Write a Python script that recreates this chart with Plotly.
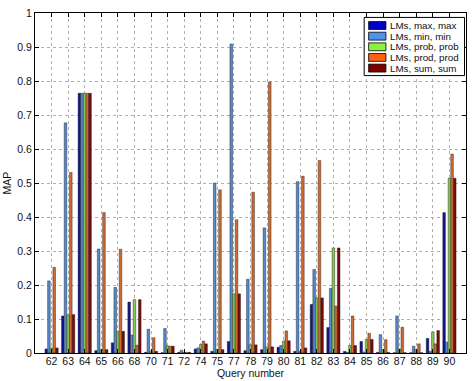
import plotly.graph_objects as go

queries = ["62","63","64","65","66","68","70","71","72","74","75","77","78","79","80","81","82","83","84","85","86","87","88","89","90"]

lm_max  = [0.012,0.109,0.764,0.007,0.030,0.150,0.002,0.001,0.002,0.012,0.005,0.034,0.007,0.010,0.017,0.005,0.143,0.075,0.005,0.034,0.002,0.001,0.001,0.043,0.413]
lm_min  = [0.212,0.677,0.764,0.306,0.193,0.053,0.070,0.072,0.008,0.015,0.500,0.909,0.217,0.368,0.022,0.504,0.246,0.190,0.002,0.003,0.054,0.109,0.020,0.005,0.032]
lm_prob = [0.015,0.112,0.764,0.010,0.064,0.157,0.005,0.021,0.002,0.025,0.010,0.174,0.024,0.018,0.035,0.005,0.162,0.309,0.022,0.040,0.010,0.012,0.010,0.062,0.514]
lm_prod = [0.252,0.531,0.764,0.413,0.305,0.023,0.045,0.020,0.002,0.035,0.480,0.392,0.473,0.797,0.065,0.520,0.566,0.138,0.109,0.058,0.039,0.076,0.027,0.027,0.585]
lm_sum  = [0.015,0.113,0.764,0.010,0.064,0.157,0.005,0.020,0.002,0.027,0.010,0.174,0.024,0.018,0.036,0.015,0.162,0.309,0.022,0.040,0.002,0.001,0.001,0.066,0.514]

series_names = ["LMs, max, max", "LMs, min, min", "LMs, prob, prob", "LMs, prod, prod", "LMs, sum, sum"]
series_vals = [lm_max, lm_min, lm_prob, lm_prod, lm_sum]
bar_colors = ["#16168c", "#5587cc", "#84c452", "#cc6a32", "#780c0c"]
legend_colors = ["#0000c8", "#4d94f0", "#8cf040", "#ff6010", "#800000"]

yticks = [0, 0.1, 0.2, 0.3, 0.4, 0.5, 0.6, 0.7, 0.8, 0.9, 1]
ytick_text = ["0", "0.1", "0.2", "0.3", "0.4", "0.5", "0.6", "0.7", "0.8", "0.9", "1"]

W, H = 474, 381
ML, MR, MT, MB = 31, 7, 9, 27
PW, PH = W - ML - MR, H - MT - MB

def px(x):
    return (x - ML) / PW

def py(y):
    return (H - MB - y) / PH

fig = go.Figure()
idx = list(range(len(queries)))
for name, vals, col in zip(series_names, series_vals, bar_colors):
    fig.add_trace(go.Bar(
        x=idx, y=vals, name=name,
        marker=dict(color=col, line=dict(color="#1a1a1a", width=0.4)),
    ))

font = "Liberation Sans, Arial, sans-serif"

# legend box (manual, to match compact MATLAB legend)
shapes = [dict(type="rect", xref="paper", yref="paper",
               x0=px(364), x1=px(465.5), y0=py(72.5), y1=py(13.5),
               fillcolor="white", line=dict(color="black", width=1), layer="above")]
annotations = []
ycent = [21.7, 32.5, 43.3, 54.1, 64.9]
for name, col, yc in zip(series_names, legend_colors, ycent):
    shapes.append(dict(type="rect", xref="paper", yref="paper",
                       x0=px(368.5), x1=px(386), y0=py(yc + 4), y1=py(yc - 4),
                       fillcolor=col, line=dict(color="black", width=0.8), layer="above"))
    annotations.append(dict(xref="paper", yref="paper", x=px(389), y=py(yc),
                            xanchor="left", yanchor="middle", text=name, showarrow=False,
                            borderpad=0,
                            font=dict(size=9.8, family=font, color="#111")))

fig.update_layout(
    width=W, height=H,
    margin=dict(l=ML, r=MR, t=MT, b=MB),
    paper_bgcolor="white", plot_bgcolor="white",
    barmode="group", bargap=0.2, bargroupgap=0,
    font=dict(family=font, size=10, color="#111"),
    showlegend=False,
    shapes=shapes, annotations=annotations,
    xaxis=dict(
        range=[-1, 25], tickmode="array", tickvals=idx, ticktext=queries,
        ticks="inside", ticklen=4, tickcolor="black",
        showline=True, linecolor="black", linewidth=1, mirror="ticks",
        showgrid=True, gridcolor="#b0b0b0", griddash="dot", gridwidth=1,
        zeroline=False, tickfont=dict(size=10.5), ticklabelstandoff=-2,
        title=dict(text="Query number", font=dict(size=10.5), standoff=0),
    ),
    yaxis=dict(
        range=[0, 1], tickmode="array", tickvals=yticks, ticktext=ytick_text,
        ticks="inside", ticklen=4, tickcolor="black",
        showline=True, linecolor="black", linewidth=1, mirror="ticks",
        showgrid=True, gridcolor="#b0b0b0", griddash="dot", gridwidth=1,
        zeroline=False, tickfont=dict(size=10.5),
        title=dict(text="MAP", font=dict(size=10.5), standoff=3),
    ),
)

fig.write_html("out.html", config={"displayModeBar": False},
               post_script="document.body.style.margin='0px';document.body.style.padding='0px';document.body.style.overflow='hidden';")
